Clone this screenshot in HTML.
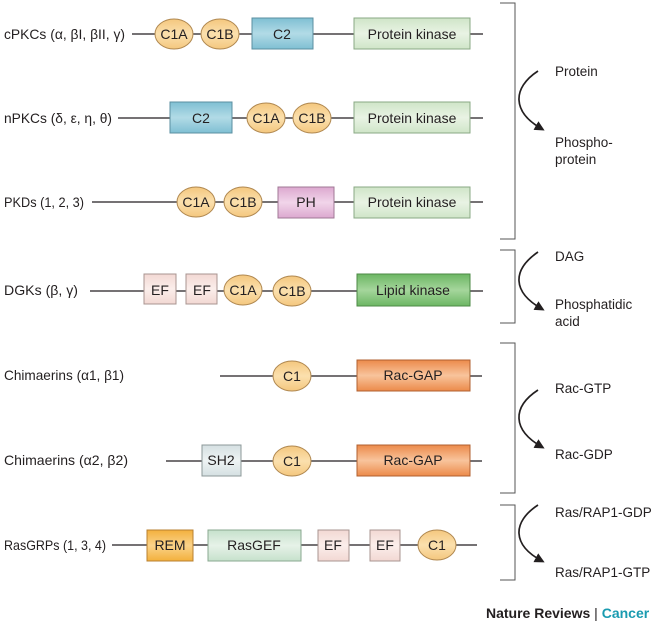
<!DOCTYPE html>
<html><head><style>
body{margin:0;background:#fff;width:655px;height:625px;overflow:hidden}
svg{display:block}
text{font-family:"Liberation Sans",sans-serif;font-size:14px;fill:#231f20}
.d{text-anchor:middle;dominant-baseline:central;font-size:14px}
.r{font-size:13.5px}
.ln{stroke:#231f20;stroke-width:1.2}
.el{fill:url(#ge);stroke:#b08850;stroke-width:1}
</style></head><body>
<svg width="655" height="625" viewBox="0 0 655 625">
<defs>
<linearGradient id="ge" x1="0" y1="0" x2="0" y2="1"><stop offset="0" stop-color="#f4c77e"/><stop offset=".5" stop-color="#fbe0ae"/><stop offset="1" stop-color="#f4c77e"/></linearGradient>
<linearGradient id="gc2" x1="0" y1="0" x2="0" y2="1"><stop offset="0" stop-color="#7fbfd3"/><stop offset=".5" stop-color="#b2dbe6"/><stop offset="1" stop-color="#7fbfd3"/></linearGradient>
<linearGradient id="gpk" x1="0" y1="0" x2="0" y2="1"><stop offset="0" stop-color="#cfe5c8"/><stop offset=".5" stop-color="#e9f3e4"/><stop offset="1" stop-color="#cfe5c8"/></linearGradient>
<linearGradient id="gph" x1="0" y1="0" x2="0" y2="1"><stop offset="0" stop-color="#dca8cf"/><stop offset=".5" stop-color="#f1d5ea"/><stop offset="1" stop-color="#dca8cf"/></linearGradient>
<linearGradient id="gef" x1="0" y1="0" x2="0" y2="1"><stop offset="0" stop-color="#f2d8d3"/><stop offset=".5" stop-color="#fbeeeb"/><stop offset="1" stop-color="#f2d8d3"/></linearGradient>
<linearGradient id="glk" x1="0" y1="0" x2="0" y2="1"><stop offset="0" stop-color="#6cb663"/><stop offset=".5" stop-color="#a5d69c"/><stop offset="1" stop-color="#6cb663"/></linearGradient>
<linearGradient id="grg" x1="0" y1="0" x2="0" y2="1"><stop offset="0" stop-color="#ec8a4a"/><stop offset=".5" stop-color="#f8c49c"/><stop offset="1" stop-color="#ec8a4a"/></linearGradient>
<linearGradient id="gsh" x1="0" y1="0" x2="0" y2="1"><stop offset="0" stop-color="#d5e0e2"/><stop offset=".5" stop-color="#eef3f3"/><stop offset="1" stop-color="#d5e0e2"/></linearGradient>
<linearGradient id="grem" x1="0" y1="0" x2="0" y2="1"><stop offset="0" stop-color="#f3b03c"/><stop offset=".5" stop-color="#fad38a"/><stop offset="1" stop-color="#f3b03c"/></linearGradient>
<linearGradient id="ggef" x1="0" y1="0" x2="0" y2="1"><stop offset="0" stop-color="#c6e1cc"/><stop offset=".5" stop-color="#e6f2e8"/><stop offset="1" stop-color="#c6e1cc"/></linearGradient>
<marker id="ar" markerWidth="10" markerHeight="10" refX="7" refY="5" orient="auto" markerUnits="userSpaceOnUse"><path d="M0,0 L10,5 L0,10 Z" fill="#231f20"/></marker>
</defs>

<text x="4" y="39" textLength="121" lengthAdjust="spacingAndGlyphs">cPKCs (α, βI, βII, γ)</text>
<text x="4" y="123" textLength="108" lengthAdjust="spacingAndGlyphs">nPKCs (δ, ε, η, θ)</text>
<text x="4" y="207" textLength="80" lengthAdjust="spacingAndGlyphs">PKDs (1, 2, 3)</text>
<text x="4" y="295" textLength="74" lengthAdjust="spacingAndGlyphs">DGKs (β, γ)</text>
<text x="4" y="380" textLength="120" lengthAdjust="spacingAndGlyphs">Chimaerins (α1, β1)</text>
<text x="4" y="465" textLength="124" lengthAdjust="spacingAndGlyphs">Chimaerins (α2, β2)</text>
<text x="4" y="550" textLength="102" lengthAdjust="spacingAndGlyphs">RasGRPs (1, 3, 4)</text>

<line class="ln" x1="132" y1="34" x2="483" y2="34"/>
<ellipse class="el" cx="174" cy="34" rx="19" ry="15"/><text class="d" x="174" y="34">C1A</text>
<ellipse class="el" cx="220" cy="34" rx="19" ry="15"/><text class="d" x="220" y="34">C1B</text>
<rect x="252" y="18" width="61" height="31" fill="url(#gc2)" stroke="#5b8fa0"/><text class="d" x="282" y="34">C2</text>
<rect x="354" y="18" width="116" height="31" fill="url(#gpk)" stroke="#8aa884"/><text class="d" x="412" y="34">Protein kinase</text>

<line class="ln" x1="118" y1="118" x2="483" y2="118"/>
<rect x="170" y="102" width="62" height="31" fill="url(#gc2)" stroke="#5b8fa0"/><text class="d" x="201" y="118">C2</text>
<ellipse class="el" cx="266" cy="118" rx="19" ry="15"/><text class="d" x="266" y="118">C1A</text>
<ellipse class="el" cx="312" cy="118" rx="19" ry="15"/><text class="d" x="312" y="118">C1B</text>
<rect x="354" y="102" width="116" height="31" fill="url(#gpk)" stroke="#8aa884"/><text class="d" x="412" y="118">Protein kinase</text>

<line class="ln" x1="92" y1="202" x2="483" y2="202"/>
<ellipse class="el" cx="196" cy="202" rx="19" ry="15"/><text class="d" x="196" y="202">C1A</text>
<ellipse class="el" cx="243" cy="202" rx="19" ry="15"/><text class="d" x="243" y="202">C1B</text>
<rect x="278" y="187" width="56" height="31" fill="url(#gph)" stroke="#a07896"/><text class="d" x="306" y="202">PH</text>
<rect x="354" y="187" width="116" height="31" fill="url(#gpk)" stroke="#8aa884"/><text class="d" x="412" y="202">Protein kinase</text>

<line class="ln" x1="90" y1="291" x2="483" y2="291"/>
<rect x="144" y="274" width="32" height="30" fill="url(#gef)" stroke="#a89490"/><text class="d" x="160" y="290">EF</text>
<rect x="186" y="274" width="31" height="30" fill="url(#gef)" stroke="#a89490"/><text class="d" x="202" y="290">EF</text>
<ellipse class="el" cx="243" cy="290" rx="19" ry="15"/><text class="d" x="243" y="290">C1A</text>
<ellipse class="el" cx="292" cy="291" rx="19" ry="15"/><text class="d" x="292" y="291">C1B</text>
<rect x="357" y="274" width="113" height="32" fill="url(#glk)" stroke="#4d8a46"/><text class="d" x="413" y="290">Lipid kinase</text>

<line class="ln" x1="220" y1="376" x2="482" y2="376"/>
<ellipse class="el" cx="292" cy="376" rx="19" ry="15"/><text class="d" x="292" y="376">C1</text>
<rect x="357" y="360" width="113" height="31" fill="url(#grg)" stroke="#b06030"/><text class="d" x="413" y="375">Rac-GAP</text>

<line class="ln" x1="166" y1="461" x2="482" y2="461"/>
<rect x="202" y="445" width="39" height="31" fill="url(#gsh)" stroke="#8c9898"/><text class="d" x="221" y="460">SH2</text>
<ellipse class="el" cx="292" cy="461" rx="19" ry="15"/><text class="d" x="292" y="461">C1</text>
<rect x="357" y="445" width="113" height="31" fill="url(#grg)" stroke="#b06030"/><text class="d" x="413" y="460">Rac-GAP</text>

<line class="ln" x1="112" y1="545" x2="477" y2="545"/>
<rect x="147" y="530" width="46" height="31" fill="url(#grem)" stroke="#b88030"/><text class="d" x="170" y="545">REM</text>
<rect x="208" y="530" width="93" height="31" fill="url(#ggef)" stroke="#8aa890"/><text class="d" x="254" y="545">RasGEF</text>
<rect x="318" y="530" width="31" height="31" fill="url(#gef)" stroke="#a89490"/><text class="d" x="333" y="545">EF</text>
<rect x="370" y="530" width="30" height="31" fill="url(#gef)" stroke="#a89490"/><text class="d" x="385" y="545">EF</text>
<ellipse class="el" cx="437" cy="545" rx="19" ry="15"/><text class="d" x="437" y="545">C1</text>

<g fill="none" stroke="#555" stroke-width="1">
<path d="M500,3 H515 V239 H500"/>
<path d="M500,250 H515 V323 H500"/>
<path d="M500,343 H515 V493 H500"/>
<path d="M500,505 H515 V580 H500"/>
</g>
<g fill="none" stroke="#231f20" stroke-width="1.7">
<path d="M538,71 C512,88 512,112 542,129" marker-end="url(#ar)"/>
<path d="M538,252 C512,270 512,292 542,309" marker-end="url(#ar)"/>
<path d="M538,390 C512,407 512,430 542,447" marker-end="url(#ar)"/>
<path d="M538,505 C512,522 512,545 542,561" marker-end="url(#ar)"/>
</g>
<text class="r" x="555" y="76">Protein</text>
<text class="r" x="555" y="147">Phospho-</text>
<text class="r" x="555" y="164">protein</text>
<text class="r" x="555" y="261">DAG</text>
<text class="r" x="555" y="309">Phosphatidic</text>
<text class="r" x="555" y="326">acid</text>
<text class="r" x="555" y="393">Rac-GTP</text>
<text class="r" x="555" y="459">Rac-GDP</text>
<text class="r" x="555" y="517">Ras/RAP1-GDP</text>
<text class="r" x="555" y="577">Ras/RAP1-GTP</text>

<text x="486" y="618" style="font-weight:bold;font-size:14px">Nature Reviews <tspan style="font-weight:normal">|</tspan> <tspan style="fill:#1a9bb0">Cancer</tspan></text>
</svg>
</body></html>
